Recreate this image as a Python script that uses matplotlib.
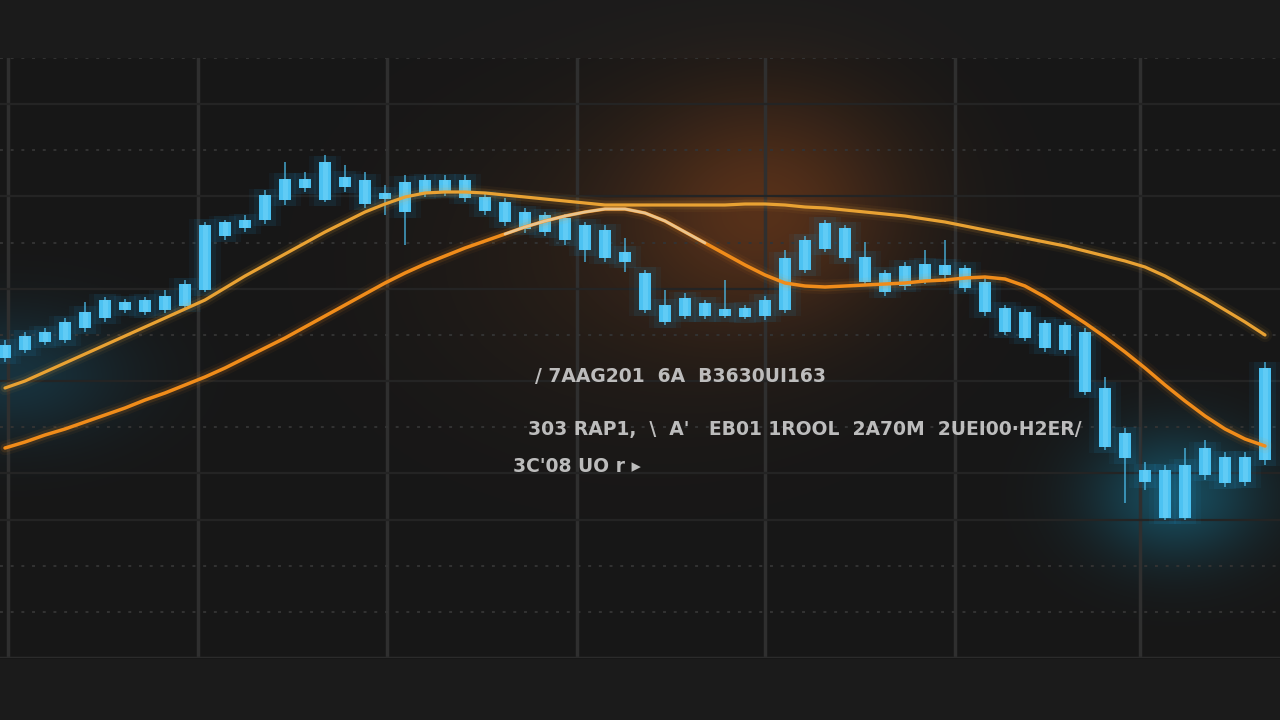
import numpy as np
import matplotlib
matplotlib.use("Agg")
import matplotlib.pyplot as plt

# ---------------- data ----------------
opens = [130.0, 130.8, 131.6, 131.8, 133.0, 134.0, 134.8, 134.6, 134.8, 135.2,
         136.8, 142.2, 143.0, 143.8, 145.8, 147.0, 145.8, 147.1, 145.4, 145.9,
         144.6, 146.5, 146.6, 146.0, 144.7, 143.6, 142.9, 142.6, 141.8, 140.8,
         140.0, 139.6, 134.8, 133.6, 134.2, 134.2, 134.2, 134.1, 134.2, 134.8,
         138.8, 140.9, 140.0, 137.6, 136.6, 137.2, 137.8, 138.3, 137.0, 134.6,
         132.6, 132.0, 131.0, 130.8, 126.6, 121.1, 120.0, 117.6, 114.0, 114.0,
         118.3, 117.5, 117.6, 119.8]
closes = [131.3, 132.2, 132.6, 133.6, 134.6, 135.8, 135.6, 135.8, 136.2, 137.4,
          143.3, 143.6, 143.8, 146.3, 147.9, 147.9, 149.6, 148.1, 147.8, 146.5,
          147.6, 147.8, 147.8, 147.8, 146.1, 145.6, 144.6, 144.3, 144.0, 143.3,
          142.8, 140.6, 138.5, 135.3, 136.0, 135.5, 134.9, 135.0, 135.8, 140.0,
          141.8, 143.5, 143.0, 140.1, 138.5, 139.2, 139.4, 139.3, 139.0, 137.6,
          135.0, 134.6, 133.5, 133.3, 132.6, 127.0, 122.5, 118.8, 118.8, 119.3,
          121.0, 120.1, 120.1, 129.0]
highs = [131.8, 132.6, 133.0, 134.0, 135.6, 136.1, 135.9, 136.1, 136.8, 137.8,
         143.6, 143.8, 144.3, 146.8, 149.6, 148.6, 150.3, 149.3, 148.6, 147.3,
         148.3, 148.3, 148.3, 148.3, 146.6, 146.0, 145.0, 144.6, 144.4, 143.6,
         143.3, 142.0, 138.8, 136.8, 136.5, 135.8, 137.8, 135.3, 136.2, 140.8,
         142.2, 143.8, 143.3, 141.6, 138.8, 139.6, 140.8, 141.8, 139.3, 138.0,
         135.3, 134.9, 133.8, 133.6, 133.0, 128.1, 123.0, 119.6, 119.3, 121.0,
         121.8, 120.6, 120.6, 129.6]
lows = [129.6, 130.5, 131.3, 131.5, 132.6, 133.6, 134.5, 134.3, 134.5, 134.8,
        136.6, 141.8, 142.6, 143.4, 145.3, 146.6, 145.6, 146.6, 145.0, 144.3,
        141.3, 146.1, 146.2, 145.6, 144.3, 143.2, 142.5, 142.2, 141.3, 139.6,
        139.6, 138.6, 134.5, 133.3, 133.9, 133.9, 134.0, 133.9, 133.8, 134.5,
        138.5, 140.6, 139.6, 137.3, 136.2, 136.8, 137.4, 137.6, 136.6, 134.2,
        132.3, 131.7, 130.6, 130.4, 126.3, 120.8, 115.5, 116.8, 113.8, 113.8,
        117.8, 117.1, 117.2, 119.3]

ma_fast = [127.0, 127.7, 128.6, 129.5, 130.4, 131.3, 132.2, 133.1, 134.0, 134.9,
           135.8, 137.0, 138.2, 139.3, 140.4, 141.5, 142.6, 143.6, 144.6, 145.4,
           146.1, 146.5, 146.6, 146.6, 146.5, 146.3, 146.1, 145.9, 145.7, 145.5,
           145.3, 145.3, 145.3, 145.3, 145.3, 145.3, 145.3, 145.4, 145.4, 145.3,
           145.1, 145.0, 144.8, 144.6, 144.4, 144.2, 143.9, 143.6, 143.2, 142.8,
           142.4, 142.0, 141.6, 141.2, 140.7, 140.2, 139.7, 139.1, 138.2, 137.1,
           136.0, 134.8, 133.6, 132.3]
ma_slow = [121.0, 121.6, 122.3, 122.9, 123.6, 124.3, 125.0, 125.8, 126.5, 127.3,
           128.1, 129.0, 130.0, 131.0, 132.0, 133.1, 134.2, 135.3, 136.4, 137.5,
           138.5, 139.4, 140.2, 141.0, 141.7, 142.4, 143.1, 143.7, 144.2, 144.6,
           144.9, 144.9, 144.5, 143.7, 142.6, 141.5, 140.4, 139.3, 138.3, 137.5,
           137.2, 137.1, 137.2, 137.3, 137.4, 137.5, 137.7, 137.8, 138.0, 138.1,
           137.9, 137.2, 136.1, 134.8, 133.5, 132.1, 130.6, 129.0, 127.3, 125.7,
           124.2, 122.9, 121.9, 121.2]

label_lines = [
    "/ 7AAG201  6A  B3630UI163",
    "303 RAP1,  \\  A'   EB01 1ROOL  2A70M  2UEI00\u00b7H2ER/",
    "3C'08 UO r \u25b8",
]

# ---------------- figure ----------------
W, H = 1280, 720
fig = plt.figure(figsize=(12.8, 7.2), dpi=100, facecolor="#1b1b1b")

# background with soft glows
bg = fig.add_axes([0, 0, 1, 1], zorder=0)
bg.axis("off")
yy, xx = np.mgrid[0:H, 0:W].astype(float)
img = np.empty((H, W, 3))
img[:] = np.array([0x1b, 0x1b, 0x1b]) / 255.0
inside = (yy >= 58) & (yy <= 658)
img[inside] = np.array([0x17, 0x17, 0x17]) / 255.0

def blob(cx, cy, sx, sy, col, amp):
    g = np.exp(-(((xx - cx) / sx) ** 2 + ((yy - cy) / sy) ** 2) / 2.0)
    return g[..., None] * np.array(col)[None, None, :] * amp

img += blob(770, 205, 95, 80, (0.55, 0.22, 0.02), 0.38)
img += blob(640, 260, 150, 110, (0.35, 0.15, 0.02), 0.18)
img += blob(1175, 495, 60, 45, (0.0, 0.45, 0.6), 0.45)
img += blob(10, 375, 80, 45, (0.0, 0.35, 0.5), 0.3)
img = np.clip(img, 0, 1)
bg.imshow(img, extent=[0, W, H, 0], aspect="auto", interpolation="bilinear")
bg.set_xlim(0, W)
bg.set_ylim(H, 0)

# main axes
ax = fig.add_axes([0, 62 / 720, 1, 600 / 720], zorder=1)
ax.patch.set_alpha(0)
for s in ax.spines.values():
    s.set_visible(False)
ax.set_xticks([])
ax.set_yticks([])
ax.set_xlim(-0.25, 63.75)
ax.set_ylim(100, 160)

# grid
for gx in [0.15, 9.65, 19.1, 28.6, 38.0, 47.5, 56.75]:
    ax.axvline(gx, color="#2f2f2f", lw=2.5, zorder=1)
grid_y = np.linspace(100, 160, 14)
for k, gy in enumerate(grid_y[::-1]):
    if k in (0, 2, 4, 6, 8, 11, 12):
        ax.axhline(gy, color="#333333", lw=1.4, ls=(0, (1.5, 4)), zorder=1)
    else:
        ax.axhline(gy, color="#242424", lw=1.6, zorder=1)
ax.axhline(100, color="#2b2b2b", lw=2.5, zorder=1)

x = np.arange(len(opens))
o = np.array(opens); c = np.array(closes)
lo = np.minimum(o, c); hgt = np.abs(c - o)

cyan = "#4cc2f2"
# candle glow
for wdt, a in [(1.6, 0.05), (1.1, 0.08)]:
    ax.bar(x, hgt + 1.2, bottom=lo - 0.6, width=wdt, color="#1aa0e0", alpha=a,
           linewidth=0, zorder=2)
ax.vlines(x, lows, highs, color=cyan, lw=1.3, alpha=0.7, zorder=3)
ax.bar(x, hgt, bottom=lo, width=0.6, color=cyan, linewidth=0, zorder=4)
ax.bar(x, hgt, bottom=lo, width=0.25, color="#8fe0ff", alpha=0.3, linewidth=0, zorder=4)

# moving averages with glow
def glow_line(xs, ys, col, lw, z):
    for extra, a in [(8, 0.05), (4, 0.12)]:
        ax.plot(xs, ys, color=col, lw=lw + extra, alpha=a, solid_capstyle="round",
                solid_joinstyle="round", zorder=z)
    ax.plot(xs, ys, color=col, lw=lw, solid_capstyle="round",
            solid_joinstyle="round", zorder=z + 0.1)

glow_line(x, ma_slow, "#f08c1a", 2.5, 5)
glow_line(x, ma_fast, "#e9a233", 2.3, 5.5)
# pale highlight where the slow line crosses near its top
ax.plot(x[25:36], ma_slow[25:36], color="#e8dcc0", lw=2.0, alpha=0.7,
        solid_capstyle="round", zorder=6)

# text overlay
ys = [377, 429, 466]
xs_ = [535, 528, 513]
for s, px, py in zip(label_lines, xs_, ys):
    fig.text(px / W, 1 - py / H, s, color="#cfcfcf", fontsize=13.5,
             fontweight="bold", family="DejaVu Sans", ha="left", va="center",
             alpha=0.9, zorder=10)

fig.savefig("out.png", dpi=100, facecolor=fig.get_facecolor())
